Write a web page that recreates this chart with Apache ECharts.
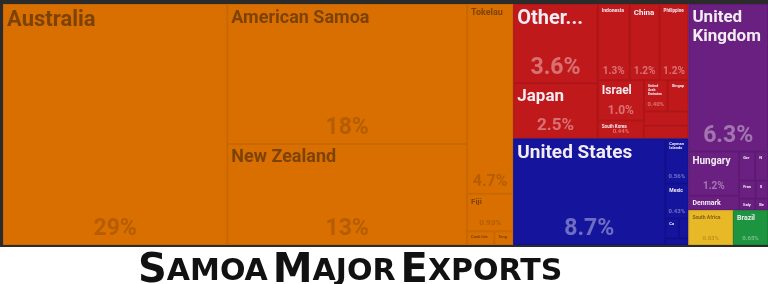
<!DOCTYPE html>
<html>
<head>
<meta charset="utf-8">
<script src="https://cdn.jsdelivr.net/npm/echarts@6/dist/echarts.min.js"></script>
<style>
html,body{margin:0;padding:0;background:#ffffff;}
#chart{width:768px;height:284px;}
</style>
</head>
<body>
<div id="chart"></div>
<script>
// ---- Data (share of Samoa exports, %) ----
const continents = ['Oceania', 'Asia', 'North America', 'Europe', 'Africa', 'South America'];

const oceaniaNames  = ['Australia', 'American Samoa', 'New Zealand', 'Tokelau', 'Fiji', 'Cook Islands', 'Tonga'];
const oceaniaValues = [29, 18, 13, 4.7, 0.93, 0.2, 0.14];

const asiaNames  = ['Other...', 'Japan', 'Indonesia', 'China', 'Philippines', 'Israel', 'South Korea', 'United Arab Emirates', 'Singapore', 'India', 'Malaysia'];
const asiaValues = [3.6, 2.5, 1.3, 1.22, 1.18, 1.0, 0.44, 0.40, 0.35, 0.34, 0.30];

const northAmericaNames  = ['United States', 'Cayman Islands', 'Mexico', 'Canada', 'Panama', 'Guatemala'];
const northAmericaValues = [8.7, 0.56, 0.43, 0.15, 0.1, 0.08];

const europeNames  = ['United Kingdom', 'Hungary', 'Denmark', 'Germany', 'Netherlands', 'France', 'Spain', 'Italy', 'Belgium'];
const europeValues = [6.3, 1.2, 0.4, 0.25, 0.2, 0.16, 0.12, 0.1, 0.08];

const africaNames  = ['South Africa'];
const africaValues = [0.83];

const southAmericaNames  = ['Brazil'];
const southAmericaValues = [0.65];

// ---- Styles ----
const FONT = '"Roboto", sans-serif';
const groupColors = {
  'Oceania': '#d86f00', 'Asia': '#c0191b', 'North America': '#15149c',
  'Europe': '#6a2080', 'Africa': '#e8b927', 'South America': '#1d9540'
};
const groupBorders = {
  'Oceania': '#c96800', 'Asia': '#ae1618', 'North America': '#11118c',
  'Europe': '#5f1b74', 'Africa': '#d6a820', 'South America': '#198539'
};
const darkText = { 'Oceania': true, 'Africa': true };
const nameSize = {
  'Australia': 22, 'American Samoa': 18, 'New Zealand': 18, 'Tokelau': 9, 'Fiji': 8,
  'Other...': 20, 'Japan': 17, 'Indonesia': 5, 'China': 8, 'Philippines': 4.5, 'Israel': 12,
  'South Korea': 4.5, 'United Arab Emirates': 3.5, 'Singapore': 4, 'India': 8, 'Malaysia': 7,
  'United States': 19, 'Cayman Islands': 4, 'Mexico': 5,
  'United Kingdom': 17, 'Hungary': 10, 'Denmark': 7, 'South Africa': 5, 'Brazil': 7
};
const wrapNames = { 'United Kingdom': true, 'Cayman Islands': true, 'South Korea': true, 'United Arab Emirates': true };
const pctHidden = { 'Denmark': true, 'India': true, 'Malaysia': true };
function pctSize(v) {
  if (v >= 5.5) return 23;
  if (v >= 4) return 16;
  if (v >= 3) return 23;
  if (v >= 2) return 17;
  if (v >= 1.1) return 10;
  if (v >= 0.95) return 12;
  if (v >= 0.9) return 8;
  return 6;
}
function fmt(v) {
  if (v >= 10) return v.toFixed(0);
  if (v >= 1) return v.toFixed(1);
  return v.toFixed(2);
}

const groups = [
  [oceaniaNames, oceaniaValues],
  [asiaNames, asiaValues],
  [northAmericaNames, northAmericaValues],
  [europeNames, europeValues],
  [africaNames, africaValues],
  [southAmericaNames, southAmericaValues]
];

function buildData(forPct) {
  return continents.map(function (c, gi) {
    const names = groups[gi][0], vals = groups[gi][1];
    const col = groupColors[c];
    const bcol = groupBorders[c];
    const dark = darkText[c];
    const style = forPct ? { color: 'rgba(0,0,0,0)', borderColor: 'rgba(0,0,0,0)' } : { color: col, borderColor: bcol };
    return {
      name: c,
      itemStyle: style,
      children: names.map(function (n, i) {
        const v = vals[i];
        let label;
        if (forPct) {
          label = {
            show: v >= 0.4 && !pctHidden[n],
            fontSize: pctSize(v),
            color: dark ? 'rgba(90,45,0,0.28)' : 'rgba(255,255,255,0.38)'
          };
        } else {
          const fs = nameSize[n] || 4;
          label = {
            show: true,
            fontSize: fs,
            lineHeight: Math.round(fs * 1.12),
            overflow: wrapNames[n] ? 'break' : 'truncate',
            ellipsis: '',
            color: dark ? 'rgba(70,40,10,0.62)' : '#f3ecf3'
          };
        }
        return { name: n, value: v, itemStyle: style, label: label };
      })
    };
  });
}

function makeSeries(forPct) {
  return {
    type: 'treemap',
    left: 3, top: 4, width: 765, height: 241,
    roam: false,
    nodeClick: false,
    silent: forPct,
    animation: false,
    squareRatio: 1.8,
    breadcrumb: { show: false },
    itemStyle: { borderWidth: 1, gapWidth: 0 },
    levels: [
      { itemStyle: { borderWidth: 0, gapWidth: 0 } },
      { itemStyle: { borderWidth: 0, gapWidth: 0 } },
      { itemStyle: { borderWidth: 1, gapWidth: 0 } }
    ],
    upperLabel: { show: false },
    label: forPct ? {
      show: true,
      position: 'insideBottom',
      distance: 0,
      padding: [0, 1, 3, 1],
      fontFamily: FONT,
      fontWeight: 'bold',
      overflow: 'truncate',
      ellipsis: '',
      formatter: function (p) { return fmt(p.value) + '%'; }
    } : {
      show: true,
      position: 'insideTopLeft',
      distance: 0,
      padding: [3, 2, 1, 3],
      fontFamily: FONT,
      fontWeight: 'bold',
      formatter: '{b}'
    },
    emphasis: { disabled: true },
    data: buildData(forPct)
  };
}

const chart = echarts.init(document.getElementById('chart'));
chart.setOption({
  animation: false,
  graphic: [
    { type: 'rect', left: 0, top: 0, shape: { width: 768, height: 247 }, style: { fill: '#2b2b2b' }, z: -10 }
  ],
  title: {
    text: '{a|S}{b|AMOA} {a|M}{b|AJOR} {a|E}{b|XPORTS}',
    left: 133, top: 247,
    textStyle: {
      rich: {
        a: { fontFamily: 'DejaVu Sans', fontWeight: 'bold', fontSize: 40, color: '#111' },
        b: { fontFamily: 'DejaVu Sans', fontWeight: 'bold', fontSize: 30, color: '#111' }
      }
    }
  },
  series: [makeSeries(false), makeSeries(true)]
});
</script>
</body>
</html>
